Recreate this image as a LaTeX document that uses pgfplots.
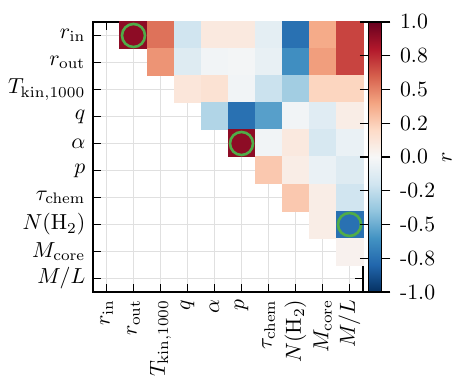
\documentclass[border=0pt]{standalone}
\usepackage{pgfplots}
\pgfplotsset{compat=1.18}
\definecolor{circgreen}{RGB}{80,172,72}
\begin{document}
\begin{tikzpicture}
\useasboundingbox (-42.78pt,-43.24pt) rectangle (175.26pt,134.32pt);
\begin{axis}[
  name=main, at={(0,0)}, anchor=south west,
  width=124.2pt, height=124.2pt, scale only axis,
  xmin=-0.5, xmax=9.5, ymin=-0.5, ymax=9.5, y dir=reverse,
  xtick={0,...,9}, ytick={0,...,9},
  xticklabels={$r_{\mathrm{in}}$,$r_{\mathrm{out}}$,$T_{\mathrm{kin,1000}}$,$q$,$\alpha$,$p$,$\tau_{\mathrm{chem}}$,$N(\mathrm{H_2})$,$M_{\mathrm{core}}$,$M/L$},
  yticklabels={$r_{\mathrm{in}}$,$r_{\mathrm{out}}$,$T_{\mathrm{kin,1000}}$,$q$,$\alpha$,$p$,$\tau_{\mathrm{chem}}$,$N(\mathrm{H_2})$,$M_{\mathrm{core}}$,$M/L$},
  x tick label style={rotate=90, anchor=east},
  tick align=inside, tick pos=both, major tick length=3.5pt,
  every tick/.style={black, line width=0.6pt},
  grid=major, grid style={black!12, line width=0.4pt},
  axis on top,
  axis line style={line width=0.7pt},
  colormap={rdbu}{rgb255=(5,48,97) rgb255=(33,102,172) rgb255=(67,147,195) rgb255=(146,197,222) rgb255=(209,229,240) rgb255=(247,247,247) rgb255=(253,219,199) rgb255=(244,165,130) rgb255=(214,96,77) rgb255=(178,24,43) rgb255=(103,0,31)},
  point meta min=-1, point meta max=1,
  colorbar,
  colorbar style={
    at={(parent axis.north east)}, anchor=north west, xshift=-6pt,
    width=6pt,
    ytick={-1,-0.75,-0.5,-0.25,0,0.25,0.5,0.75,1},
    yticklabels={\mbox{-1.0},\mbox{-0.8},\mbox{-0.5},\mbox{-0.2},\mbox{0.0},\mbox{0.2},\mbox{0.5},\mbox{0.8},\mbox{1.0}},
    ytick align=outside, major tick length=4pt,
    every tick/.style={black, line width=0.6pt},
    yticklabel style={xshift=1pt},
    axis line style={line width=0.6pt},
  },
]
\addplot[scatter, only marks, mark=square*, mark size=6.21pt, line width=0pt,
  scatter/use mapped color={draw=mapped color, fill=mapped color},
  point meta=explicit] table[meta=r] {
x y r
1 0 0.90
2 0 0.55
3 0 -0.20
4 0 0.10
5 0 0.10
6 0 -0.10
7 0 -0.75
8 0 0.38
9 0 0.68
2 1 0.45
3 1 -0.13
4 1 -0.03
5 1 -0.02
6 1 -0.08
7 1 -0.62
8 1 0.42
9 1 0.68
3 2 0.12
4 2 0.15
5 2 -0.03
6 2 -0.22
7 2 -0.35
8 2 0.22
9 2 0.22
4 3 -0.30
5 3 -0.75
6 3 -0.55
7 3 -0.03
8 3 -0.12
9 3 0.07
5 4 0.90
6 4 -0.03
7 4 0.10
8 4 -0.17
9 4 -0.07
6 5 0.27
7 5 0.07
8 5 -0.07
9 5 -0.13
7 6 0.27
8 6 0.07
9 6 -0.20
8 7 0.07
9 7 -0.75
9 8 0.04
};
\addplot[only marks, mark=o, mark size=5.3pt, circgreen, line width=1.2pt] coordinates {(1,0) (5,4) (9,7)};
\end{axis}
\node[rotate=90] at (162.8pt,62.1pt) {$r$};
\end{tikzpicture}
\end{document}
